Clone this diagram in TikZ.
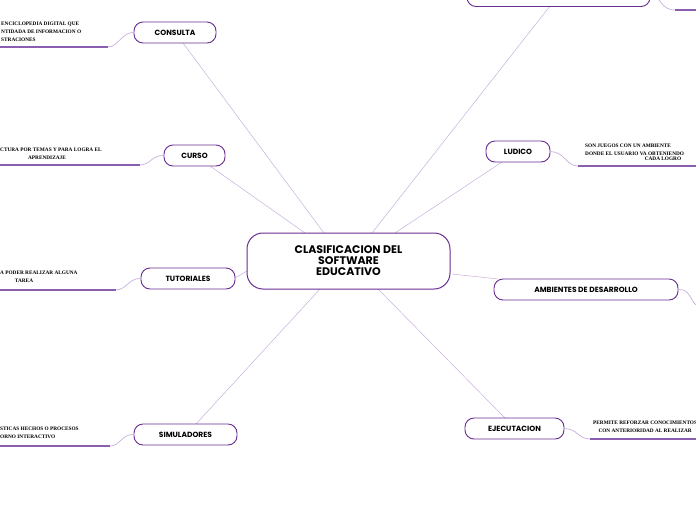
\documentclass[tikz,border=0pt]{standalone}
\usepackage{fontspec}
\newfontfamily\lab{Poppins}
\newfontfamily\leaf{Liberation Serif}
\definecolor{pv}{HTML}{6A2D91}
\definecolor{pl}{HTML}{C9B0DE}
\definecolor{pu}{HTML}{8A5FB0}
\begin{document}
\begin{tikzpicture}[x=1pt,y=-1pt,
 cat/.style={draw=pv,line width=0.9pt,rounded corners=9pt,fill=white,font=\lab\bfseries\fontsize{7.5}{8}\selectfont,inner sep=0pt,minimum height=21pt},
 main/.style={draw=pv,line width=1pt,rounded corners=16pt,fill=white,font=\lab\bfseries\fontsize{11}{11}\selectfont,align=center,inner sep=0pt,minimum width=203pt,minimum height=56pt},
 lt/.style={font=\leaf\bfseries\fontsize{5.3}{8}\selectfont,inner sep=0pt,align=center},
 conn/.style={draw=pl,line width=0.5pt},
 ul/.style={draw=pu,line width=1.2pt},
 tail/.style={draw=pl,line width=0.7pt}]
\useasboundingbox (0,0) rectangle (696,520);
\fill[white] (0,0) rectangle (696,520);
% connectors
\coordinate (cA) at (324,233); \coordinate (cB) at (305,233);
\coordinate (cC) at (247,271); \coordinate (cD) at (320,289);
\coordinate (cE) at (372,233); \coordinate (cF) at (395,233);
\coordinate (cG) at (452,274); \coordinate (cH) at (378,289);
\coordinate (t1) at (183,43); \coordinate (t2) at (210,166);
\coordinate (t3) at (235,278); \coordinate (t4) at (196,424);
\coordinate (t5) at (550,6); \coordinate (t6) at (502,162);
\coordinate (t7) at (498,279); \coordinate (t8) at (505,418);
\draw[conn] (cA)--(t1); \draw[conn] (cB)--(t2); \draw[conn] (cC)--(t3);
\draw[conn] (cD)--(t4); \draw[conn] (cE)--(t5); \draw[conn] (cF)--(t6);
\draw[conn] (cG)--(t7); \draw[conn] (cH)--(t8);
% main
\node[main] (m) at (348.5,261) {CLASIFICACION DEL\\SOFTWARE\\EDUCATIVO};
% top partial node
\node[cat,minimum width=183pt] (top) at (558.5,-4) {};
\coordinate (tt) at (696,10);
\draw[tail] (top.east) .. controls (662,-4) and (660,10) .. (675,10);
\draw[ul] (675,10)--(tt);
% categories
\node[cat,minimum width=82pt] (cons) at (175,32.5) {CONSULTA};
\node[cat,minimum width=61pt] (curso) at (194.5,155.5) {CURSO};
\node[cat,minimum width=94pt] (tut) at (188,278.5) {TUTORIALES};
\node[cat,minimum width=103pt] (sim) at (185.5,434.5) {SIMULADORES};
\node[cat,minimum width=64pt] (lud) at (518,151.5) {LUDICO};
\node[cat,minimum width=184pt] (amb) at (586,289.5) {AMBIENTES DE DESARROLLO};
\node[cat,minimum width=99pt] (eje) at (514.5,428.5) {EJECUTACION};
% left tails
\coordinate (u1) at (0,47); \coordinate (u2) at (0,165);
\coordinate (u3) at (0,290); \coordinate (u4) at (0,446);
\draw[tail] (cons.west) .. controls (122,32) and (118,47) .. (108,47);
\draw[ul] (108,47)--(u1);
\draw[tail] (curso.west) .. controls (152,155) and (150,165) .. (140,165);
\draw[ul] (140,165)--(u2);
\draw[tail] (tut.west) .. controls (129,278) and (126,290) .. (116,290);
\draw[ul] (116,290)--(u3);
\draw[tail] (sim.west) .. controls (122,434) and (120,446) .. (110,446);
\draw[ul] (110,446)--(u4);
% right tails
\coordinate (u6) at (696,166); \coordinate (u7) at (696,305); \coordinate (u8) at (696,439);
\draw[tail] (lud.east) .. controls (565,152) and (566,166) .. (578,166);
\draw[ul] (578,166)--(u6);
\draw[tail] (amb.east) .. controls (690,289) and (690,300) .. (696,305);
\draw[tail] (eje.east) .. controls (578,429) and (578,439) .. (590,439);
\draw[ul] (590,439)--(u8);
% leaf texts
\node[lt,anchor=west,align=left] (l1) at (1,32) {ENCICLOPEDIA DIGITAL QUE\\NTIDADA DE INFORMACION O\\STRACIONES};
\node[lt,anchor=west,align=left] (l2a) at (0,150) {CTURA POR TEMAS Y PARA LOGRA EL};
\node[lt] (l2b) at (47,158) {APRENDIZAJE};
\node[lt,anchor=west,align=left] (l3a) at (0,273) {A PODER REALIZAR ALGUNA};
\node[lt] (l3b) at (24,281) {TAREA};
\node[lt,anchor=west,align=left] (l4) at (0,433) {STICAS HECHOS O PROCESOS\\ORNO INTERACTIVO};
\node[lt,anchor=west,align=left] (l6) at (585,150) {SON JUEGOS CON UN AMBIENTE\\DONDE EL USUARIO VA OBTENIENDO};
\node[lt] (l6b) at (663,159) {CADA LOGRO};
\node[lt,anchor=west,align=center] (l8) at (593,427) {PERMITE REFORZAR CONOCIMIENTOS\\CON ANTERIORIDAD AL REALIZAR};
\end{tikzpicture}
\end{document}
